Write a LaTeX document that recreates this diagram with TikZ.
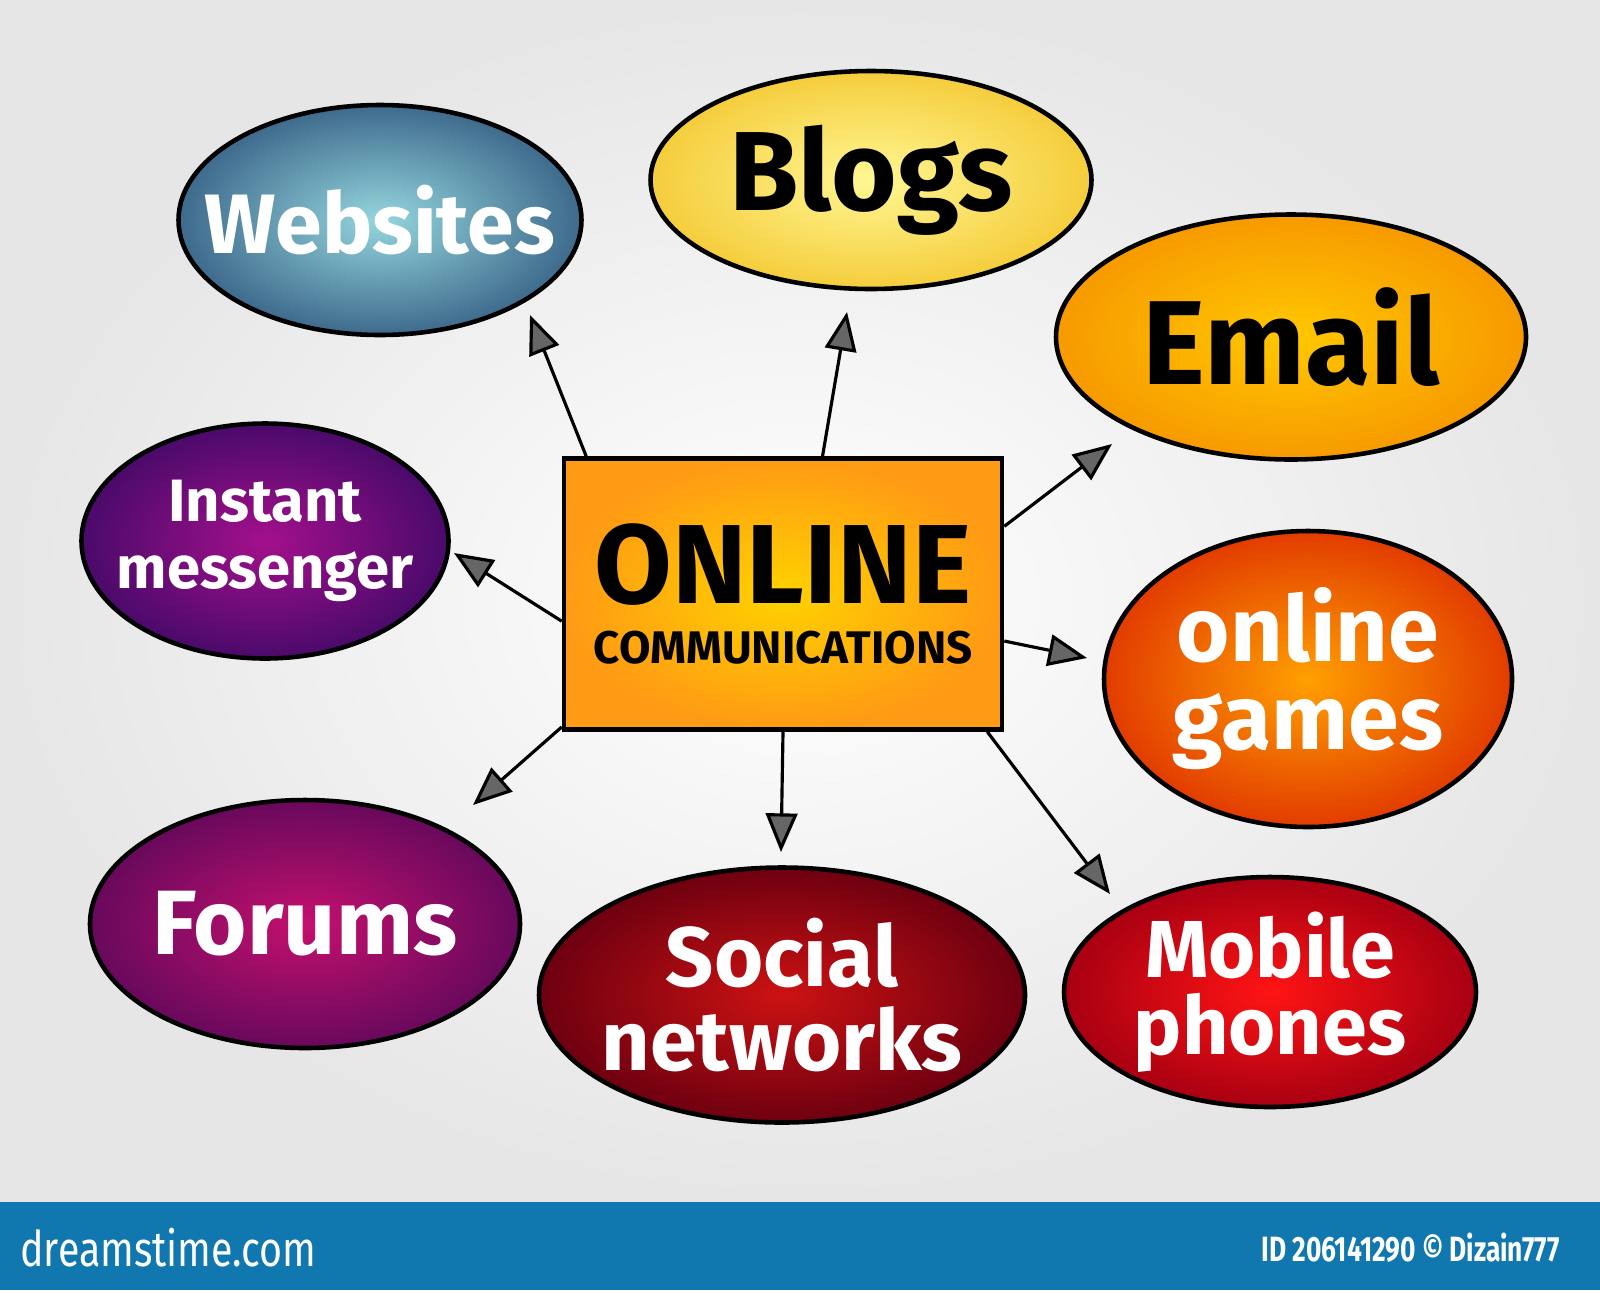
\documentclass[tikz,border=0pt]{standalone}
\usepackage{fontspec}
\setmainfont{Fira Sans}
\usepackage{graphicx}
\usepackage{tikz}
\usetikzlibrary{shapes.geometric}
\usetikzlibrary{arrows.meta}
\usetikzlibrary{positioning}
\definecolor{bggray}{HTML}{E6E6E6}
\definecolor{barblue}{HTML}{1177AF}
\definecolor{webin}{HTML}{95D6DE}
\definecolor{webout}{HTML}{3E6A8C}
\definecolor{blogin}{HTML}{FFF794}
\definecolor{blogout}{HTML}{F5CD3C}
\definecolor{mailin}{HTML}{FFC800}
\definecolor{mailout}{HTML}{F79A00}
\definecolor{imin}{HTML}{A3108C}
\definecolor{imout}{HTML}{4A0A6A}
\definecolor{centin}{HTML}{FFD200}
\definecolor{centout}{HTML}{FF9A14}
\definecolor{gamein}{HTML}{FFA000}
\definecolor{gameout}{HTML}{E23C00}
\definecolor{forumin}{HTML}{C4106E}
\definecolor{forumout}{HTML}{68095C}
\definecolor{socin}{HTML}{CC1212}
\definecolor{socout}{HTML}{6E0010}
\definecolor{mobin}{HTML}{FF1414}
\definecolor{mobout}{HTML}{A80012}

\begin{document}
\begin{tikzpicture}[bubble/.style={ellipse, draw=black, line width=1.3pt, inner xsep=-0.8cm, inner ysep=-0.5cm},
			central/.style={draw, rectangle, line width=1.3pt, inner sep=0pt, inner color=centin, outer color=centout},
			link/.style={-{Triangle[length=11pt, width=9pt, fill=black!60]}, line width=0.9pt},
			every text node part/.style={align=center}]
			\useasboundingbox (0,0) rectangle (16,-12.9);
			\shade[inner color=white, outer color=bggray] (0,0) rectangle (16,-12.02);
			\fill[barblue] (0,-12.02) rectangle (16,-12.9);
			
			\node[central, minimum width=4.38cm, minimum height=2.71cm, font=\bfseries](center) at (7.83, -5.94) {{\fontsize{32}{32}\selectfont ONLINE}\\[5pt]{\fontsize{13}{13}\selectfont COMMUNICATIONS}};
			
			\node[bubble, minimum width=4.03cm, minimum height=2.30cm, inner color=webin, outer color=webout, text=white, font=\bfseries\fontsize{24}{24}\selectfont](websites) at (3.80, -2.20) {Websites};
			\node[bubble, minimum width=4.41cm, minimum height=2.18cm, inner color=blogin, outer color=blogout, font=\bfseries\fontsize{32}{32}\selectfont](blogs) at (8.71, -1.80) {Blogs};
			\node[bubble, minimum width=4.70cm, minimum height=2.45cm, inner color=mailin, outer color=mailout, font=\bfseries\fontsize{34}{34}\selectfont](email) at (12.91, -3.37) {Email};
			\node[bubble, minimum width=3.67cm, minimum height=2.35cm, inner color=imin, outer color=imout, text=white, font=\bfseries\fontsize{17}{19}\selectfont](instant) at (2.65, -5.41) {Instant\\messenger};
			\node[bubble, minimum width=4.08cm, minimum height=2.96cm, inner color=gamein, outer color=gameout, text=white, font=\bfseries\fontsize{26}{25}\selectfont](games) at (13.08, -6.79) {online\\games};
			\node[bubble, minimum width=4.30cm, minimum height=2.48cm, inner color=forumin, outer color=forumout, text=white, font=\bfseries\fontsize{26}{26}\selectfont](forums) at (3.05, -9.24) {Forums};
			\node[bubble, minimum width=4.86cm, minimum height=2.55cm, inner color=socin, outer color=socout, text=white, font=\bfseries\fontsize{24}{24}\selectfont](social) at (7.82, -9.95) {Social\\networks};
			\node[bubble, minimum width=4.12cm, minimum height=2.30cm, inner color=mobin, outer color=mobout, text=white, font=\bfseries\fontsize{23}{22}\selectfont](mobile) at (12.70, -9.92) {Mobile\\phones};
			
			% arrow tips stop short of the bubbles
			\coordinate (tipwebsites) at (5.30, -3.15);
			\coordinate (tipblogs) at (8.47, -3.12);
			\coordinate (tipemail) at (11.12, -4.44);
			\coordinate (tipgames) at (10.87, -6.58);
			\coordinate (tipmobile) at (11.10, -8.94);
			\coordinate (tipsocial) at (7.81, -8.52);
			\coordinate (tipforums) at (4.73, -8.05);
			\coordinate (tipinstant) at (4.54, -5.53);
			
			\draw[link] (center.145) -- (tipwebsites);
			\draw[link] (center.74) -- (tipblogs);
			\draw[link] (center.17) -- (tipemail);
			\draw[link] (center.348) -- (tipgames);
			\draw[link] (center.326) -- (tipmobile);
			\draw[link] (center.270) -- (tipsocial);
			\draw[link] (center.211) -- (tipforums);
			\draw[link] (center.187) -- (tipinstant);
			
			\node[text=white, anchor=west](brand) at (0.08, -12.48) {\scalebox{0.8}[1]{\fontsize{14}{14}\selectfont dreamstime.com}};
			\node[text=white, anchor=east](photoid) at (15.72, -12.48) {\scalebox{0.75}[1]{\bfseries\fontsize{10}{10}\selectfont ID 206141290 © Dizain777}};
		\end{tikzpicture}
\end{document}
